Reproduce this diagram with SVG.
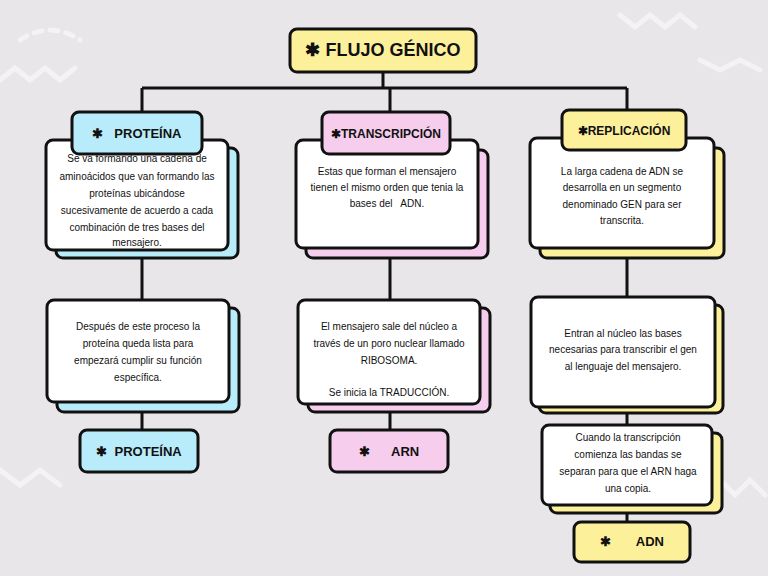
<svg xmlns="http://www.w3.org/2000/svg" width="768" height="576" viewBox="0 0 768 576">
<style>
.bg{fill:#e8e6e8}
.deco{fill:none;stroke:#f4f3f4;stroke-width:5;stroke-linecap:round}
.w{fill:#fff;stroke:#111;stroke-width:3}
.b{fill:#b9ecfb;stroke:#111;stroke-width:3}
.p{fill:#f6cdec;stroke:#111;stroke-width:3}
.y{fill:#fdf09b;stroke:#111;stroke-width:3}
.ln{stroke:#111;stroke-width:3;fill:none}
.t{font-family:"Liberation Sans",Arial,sans-serif;font-size:10px;fill:#111;text-anchor:middle;white-space:pre}
.h{font-family:"Liberation Sans",Arial,sans-serif;font-size:13px;font-weight:bold;fill:#111;text-anchor:middle;white-space:pre}
</style>
<rect class="bg" width="768" height="576"/>
<g id="decor">
<path class="deco" d="M0 80 l15 -12 l15 12 l15 -12 l15 12 l15 -12"/>
<path class="deco" d="M20 40 q30 -20 60 0" stroke-dasharray="8 8"/>
<path class="deco" d="M620 15 l15 12 l15 -12 l15 12 l15 -12 l15 12"/>
<path class="deco" d="M700 60 l20 10 l20 -10 l20 10"/>
<path class="deco" d="M0 470 l20 15 l20 -15 l20 15"/>
<path class="deco" d="M720 480 l15 15 l15 -15 l15 15"/>
</g>
<g id="connectors">
<path class="ln" d="M383 72 V88 M142 88 H627 M142 88 V112 M390 88 V112 M627 88 V110"/>
<path class="ln" d="M142 250 V300 M142 402 V430 M390 248 V300 M390 404 V430 M627 248 V297 M627 407 V425 M627 505 V522"/>
</g>
<g id="title">
<rect class="y" x="290" y="29" width="186" height="43" rx="7"/>
<text class="h" x="383" y="56" style="font-size:18px">✱ FLUJO GÉNICO</text>
</g>
<g id="c1card1">
<rect class="b" x="56" y="148" width="182" height="110" rx="7"/>
<rect class="w" x="46" y="140" width="182" height="110" rx="7"/>
<text class="t" x="137" y="162">Se va formando una cadena de</text>
<text class="t" x="137" y="180">aminoácidos que van formando las</text>
<text class="t" x="137" y="197">proteínas ubicándose</text>
<text class="t" x="137" y="214">sucesivamente de acuerdo a cada</text>
<text class="t" x="137" y="231">combinación de tres bases del</text>
<text class="t" x="137" y="246">mensajero.</text>
</g>
<g id="c1head">
<rect class="b" x="72" y="112" width="130" height="42" rx="7"/>
<text class="h" x="137" y="138">✱   PROTEÍNA</text>
</g>
<g id="c1card2">
<rect class="b" x="57" y="308" width="182" height="104" rx="7"/>
<rect class="w" x="47" y="300" width="182" height="102" rx="7"/>
<text class="t" x="138" y="330">Después de este proceso la</text>
<text class="t" x="138" y="347">proteína queda lista para</text>
<text class="t" x="138" y="364">empezará cumplir su función</text>
<text class="t" x="138" y="381">específica.</text>
</g>
<g id="c1end">
<rect class="b" x="80" y="430" width="118" height="42" rx="7"/>
<text class="h" x="139" y="456">✱  PROTEÍNA</text>
</g>
<g id="c2card1">
<rect class="p" x="306" y="150" width="182" height="108" rx="7"/>
<rect class="w" x="296" y="140" width="182" height="108" rx="7"/>
<text class="t" x="387" y="175">Estas que forman el mensajero</text>
<text class="t" x="387" y="191">tienen el mismo orden que tenia la</text>
<text class="t" x="387" y="207">bases del   ADN.</text>
</g>
<g id="c2head">
<rect class="p" x="322" y="112" width="128" height="42" rx="7"/>
<text class="h" x="386" y="138" style="font-size:12px">✱TRANSCRIPCIÓN</text>
</g>
<g id="c2card2">
<rect class="p" x="308" y="308" width="182" height="104" rx="7"/>
<rect class="w" x="298" y="300" width="182" height="104" rx="7"/>
<text class="t" x="389" y="330">El mensajero sale del núcleo a</text>
<text class="t" x="389" y="347">través de un poro nuclear llamado</text>
<text class="t" x="389" y="364">RIBOSOMA.</text>
<text class="t" x="389" y="396">Se inicia la TRADUCCIÓN.</text>
</g>
<g id="c2end">
<rect class="p" x="330" y="430" width="118" height="42" rx="7"/>
<text class="h" x="389" y="456">✱      ARN</text>
</g>
<g id="c3card1">
<rect class="y" x="540" y="148" width="184" height="110" rx="7"/>
<rect class="w" x="530" y="138" width="184" height="110" rx="7"/>
<text class="t" x="622" y="175">La larga cadena de ADN se</text>
<text class="t" x="622" y="191">desarrolla en un segmento</text>
<text class="t" x="622" y="208">denominado GEN para ser</text>
<text class="t" x="622" y="224">transcrita.</text>
</g>
<g id="c3head">
<rect class="y" x="562" y="110" width="124" height="40" rx="7"/>
<text class="h" x="624" y="135" style="font-size:12px">✱REPLICACIÓN</text>
</g>
<g id="c3card2">
<rect class="y" x="539" y="305" width="184" height="108" rx="7"/>
<rect class="w" x="531" y="297" width="184" height="110" rx="7"/>
<text class="t" x="623" y="337">Entran al núcleo las bases</text>
<text class="t" x="623" y="353">necesarias para transcribir el gen</text>
<text class="t" x="623" y="370">al lenguaje del mensajero.</text>
</g>
<g id="c3card3">
<rect class="y" x="550" y="433" width="172" height="80" rx="7"/>
<rect class="w" x="542" y="425" width="170" height="80" rx="7"/>
<text class="t" x="628" y="441">Cuando la transcripción</text>
<text class="t" x="628" y="458">comienza las bandas se</text>
<text class="t" x="628" y="475">separan para que el ARN haga</text>
<text class="t" x="628" y="492">una copia.</text>
</g>
<g id="c3end">
<rect class="y" x="574" y="522" width="116" height="40" rx="7"/>
<text class="h" x="632" y="546">✱       ADN</text>
</g>
</svg>
